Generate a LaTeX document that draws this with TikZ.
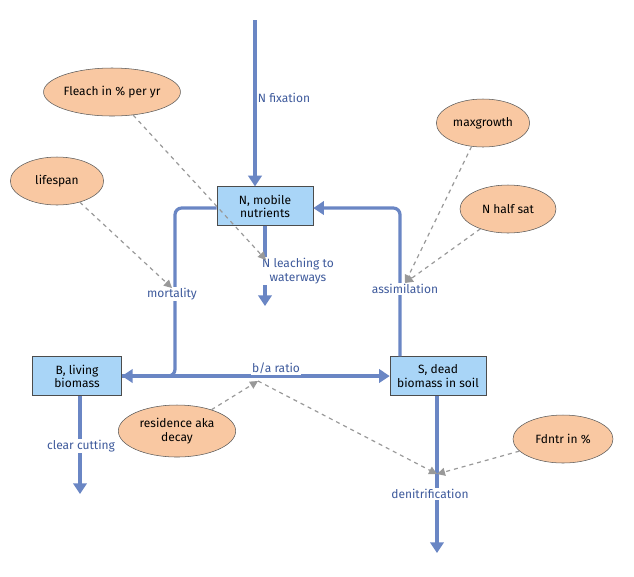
\documentclass[tikz,border=0pt]{standalone}
\usepackage{fontspec}
\setmainfont{Fira Sans}
\usetikzlibrary{arrows.meta,shapes.geometric}
\definecolor{flow}{HTML}{6A86C4}
\definecolor{boxfill}{HTML}{A9D5F7}
\definecolor{ellfill}{HTML}{F9C8A2}
\definecolor{lbl}{HTML}{3E5A9C}
\begin{document}
\begin{tikzpicture}[x=0.75pt,y=-0.75pt,font=\small,
 stock/.style={draw=black!70,fill=boxfill,minimum width=72pt,minimum height=29pt,align=center,inner sep=1pt,font=\small\linespread{0.9}\selectfont},
 param/.style={draw=black!65,fill=ellfill,ellipse,inner sep=0pt,font=\small},
 flowline/.style={draw=flow,line width=2.4pt,-{Triangle[length=8pt,width=10pt]},rounded corners=5pt},
 flowlbl/.style={fill=white,text=lbl,inner sep=1pt,align=center,font=\small\linespread{0.9}\selectfont},
 infl/.style={draw=black!40,dashed,line width=0.9pt,-{Triangle[length=6pt,width=6pt]}}]
\useasboundingbox (0,0) rectangle (634,576);
\node[stock] (N) at (265,206) {N, mobile\\nutrients};
\node[stock,minimum width=67pt] (B) at (77,376) {B, living\\biomass};
\node[stock] (S) at (438,376) {S, dead\\biomass in soil};
\node[param,minimum width=85pt,minimum height=36pt] (fl) at (112,92) {Fleach in \% per yr};
\node[param,minimum width=70pt,minimum height=36pt] (ls) at (57,181) {lifespan};
\node[param,minimum width=70pt,minimum height=36pt] (mg) at (483,123) {maxgrowth};
\node[param,minimum width=72pt,minimum height=36pt] (hs) at (508,209) {N half sat};
\node[param,minimum width=88pt,minimum height=39pt,align=center,font=\small\linespread{0.9}\selectfont] (rs) at (177,431) {residence aka\\decay};
\node[param,minimum width=75pt,minimum height=36pt] (fd) at (563,439) {Fdntr in \%};
\coordinate (src) at (255,20);
\coordinate (leachend) at (265,306);
\coordinate (ccend) at (80,494);
\coordinate (dnend) at (437,553);
% flows
\draw[flowline] (src) -- (N.north -| src);
\draw[flowline] (N.south) -- (leachend);
\draw[flowline] (N.west |- 0,208) -| (175,376) -- (B.east);
\draw[flowline] (B.east) -- (S.west);
\draw[flowline] (S.north -| 400,0) |- (N.east |- 0,208);
\draw[flowline] (B.south -| ccend) -- (ccend);
\draw[flowline] (S.south -| dnend) -- (dnend);
% labels
\node[flowlbl] (lfix) at (284,98) {N fixation};
\node[flowlbl] (lleach) at (298,271) {N leaching to\\waterways};
\node[flowlbl] (lmort) at (172,294) {mortality};
\node[flowlbl] (lassim) at (405,289) {assimilation};
\node[flowlbl] (lba) at (276,368) {b/a ratio};
\node[flowlbl] (lcc) at (81,446) {clear cutting};
\node[flowlbl] (ldn) at (430,494) {denitrification};
% influences
\coordinate (tleach) at (266,260);
\coordinate (tmort) at (172,288);
\coordinate (tassim) at (405,283);
\coordinate (tba) at (258,381);
\coordinate (tdn) at (437,474);
\draw[infl] (fl) -- (tleach);
\draw[infl] (ls) -- (tmort);
\draw[infl] (mg) -- (tassim);
\draw[infl] (hs) -- (tassim);
\draw[infl] (rs) -- (tba);
\draw[infl] (tba) -- (tdn);
\draw[infl] (fd) -- (tdn);
\end{tikzpicture}
\end{document}
